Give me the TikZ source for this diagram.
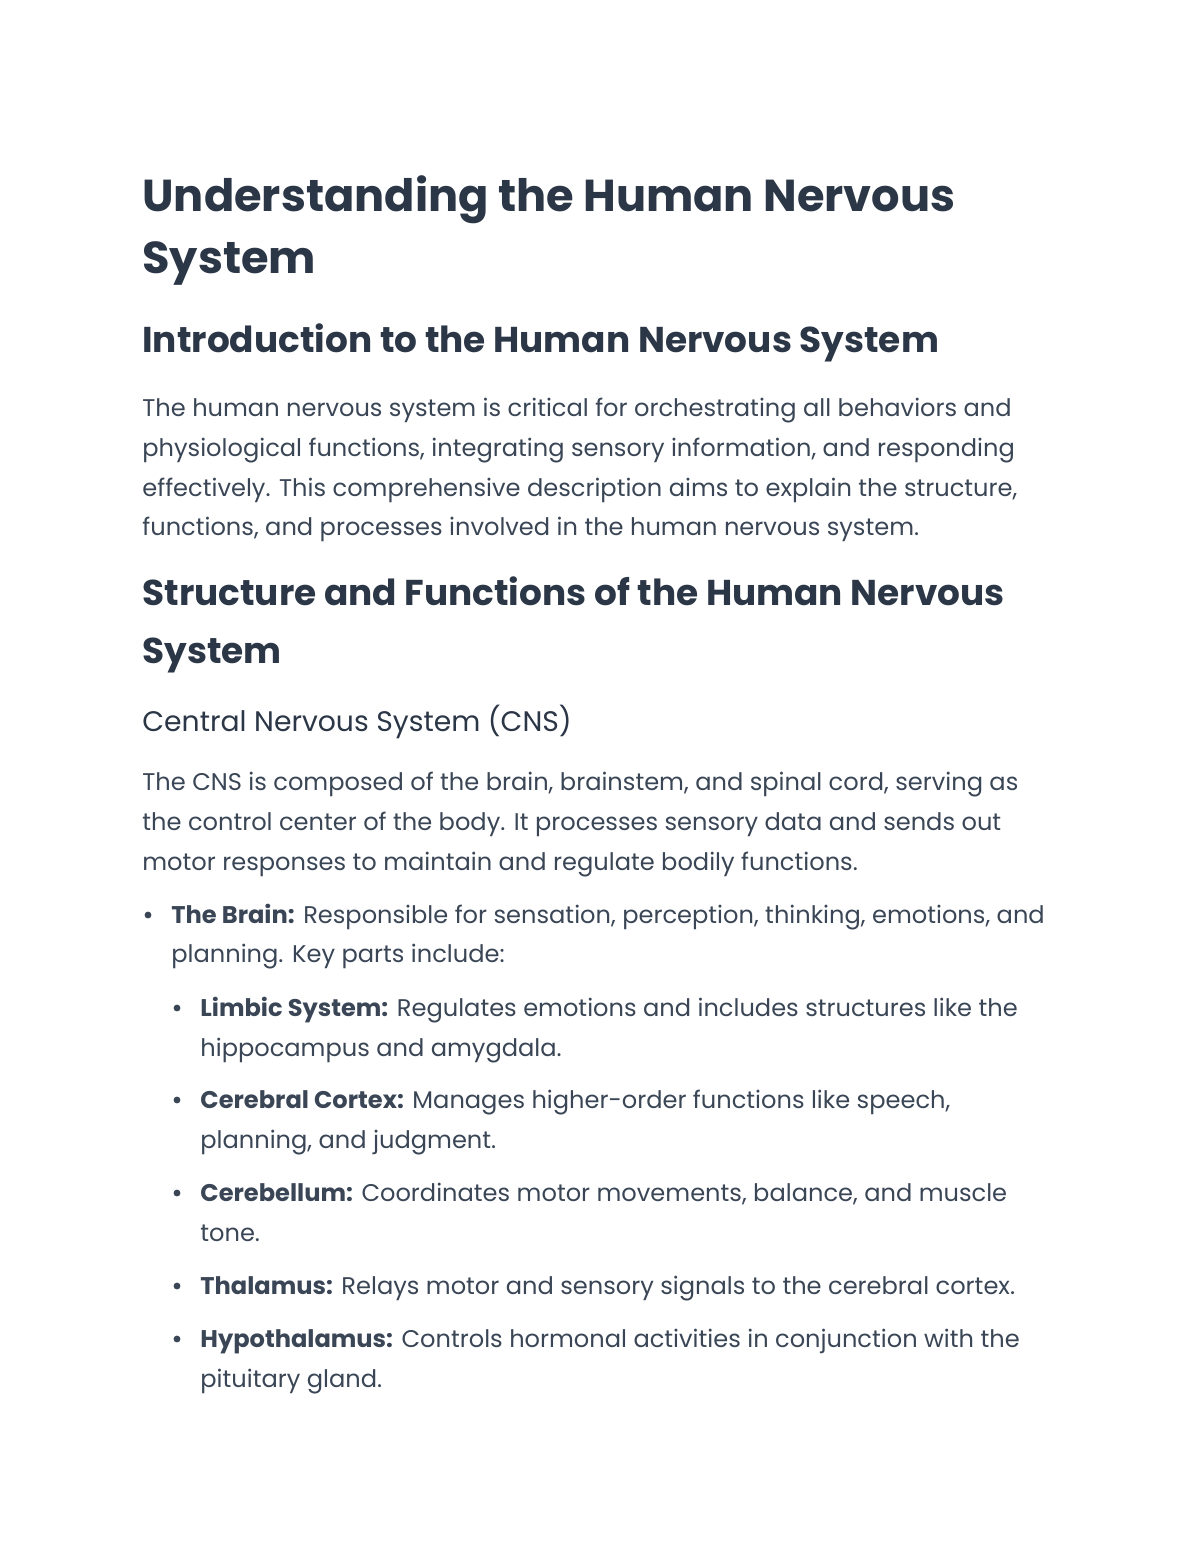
\documentclass[tikz,border=0pt]{standalone}
\usepackage{fontspec}
\setmainfont{Poppins}
\definecolor{hd}{HTML}{2B3646}
\definecolor{bd}{HTML}{3A4656}
\begin{document}
\begin{tikzpicture}[x=0.51pt,y=-0.51pt,
  every node/.style={anchor=base west,inner sep=0pt,text=bd},
  ttl/.style={font=\fontsize{22.8}{28}\selectfont\bfseries,text=hd},
  hh/.style={font=\fontsize{18.3}{20}\selectfont\bfseries,text=hd},
  hhh/.style={font=\fontsize{14.4}{16}\selectfont,text=hd},
  bt/.style={font=\fontsize{12.3}{14}\selectfont},
  dot/.style={circle,fill=bd,inner sep=0pt,minimum size=3.5pt,anchor=center}]
\fill[white] (0,0) rectangle (1200,1553);
\node[ttl] (t1) at (142,212) {Understanding the Human Nervous};
\node[ttl] (t2) at (142,273) {System};
\node[hh] (h1) at (142,352) {Introduction to the Human Nervous System};
\node[bt] (p1) at (142,416) {The human nervous system is critical for orchestrating all behaviors and};
\node[bt] (p2) at (142,456) {physiological functions, integrating sensory information, and responding};
\node[bt] (p3) at (142,496) {effectively. This comprehensive description aims to explain the structure,};
\node[bt] (p4) at (142,535) {functions, and processes involved in the human nervous system.};
\node[hh] (h2) at (142,605) {Structure and Functions of the Human Nervous};
\node[hh] (h2b) at (142,663) {System};
\node[hhh] (h3) at (142,731) {Central Nervous System (CNS)};
\node[bt] (q1) at (142,790) {The CNS is composed of the brain, brainstem, and spinal cord, serving as};
\node[bt] (q2) at (142,830) {the control center of the body. It processes sensory data and sends out};
\node[bt] (q3) at (142,870) {motor responses to maintain and regulate bodily functions.};
\node[dot] (d1) at (148,915) {};
\node[bt] (b1) at (171,923) {\textbf{The Brain:} Responsible for sensation, perception, thinking, emotions, and};
\node[bt] (b1b) at (171,962) {planning. Key parts include:};
\node[dot] (d2) at (177,1008) {};
\node[bt] (s1) at (200,1016) {\textbf{Limbic System:} Regulates emotions and includes structures like the};
\node[bt] (s1b) at (200,1056) {hippocampus and amygdala.};
\node[dot] (d3) at (177,1100) {};
\node[bt] (s2) at (200,1108) {\textbf{Cerebral Cortex:} Manages higher-order functions like speech,};
\node[bt] (s2b) at (200,1148) {planning, and judgment.};
\node[dot] (d4) at (177,1193) {};
\node[bt] (s3) at (200,1201) {\textbf{Cerebellum:} Coordinates motor movements, balance, and muscle};
\node[bt] (s3b) at (200,1241) {tone.};
\node[dot] (d5) at (177,1286) {};
\node[bt] (s4) at (200,1294) {\textbf{Thalamus:} Relays motor and sensory signals to the cerebral cortex.};
\node[dot] (d6) at (177,1339) {};
\node[bt] (s5) at (200,1347) {\textbf{Hypothalamus:} Controls hormonal activities in conjunction with the};
\node[bt] (s5b) at (200,1387) {pituitary gland.};
\end{tikzpicture}
\end{document}
